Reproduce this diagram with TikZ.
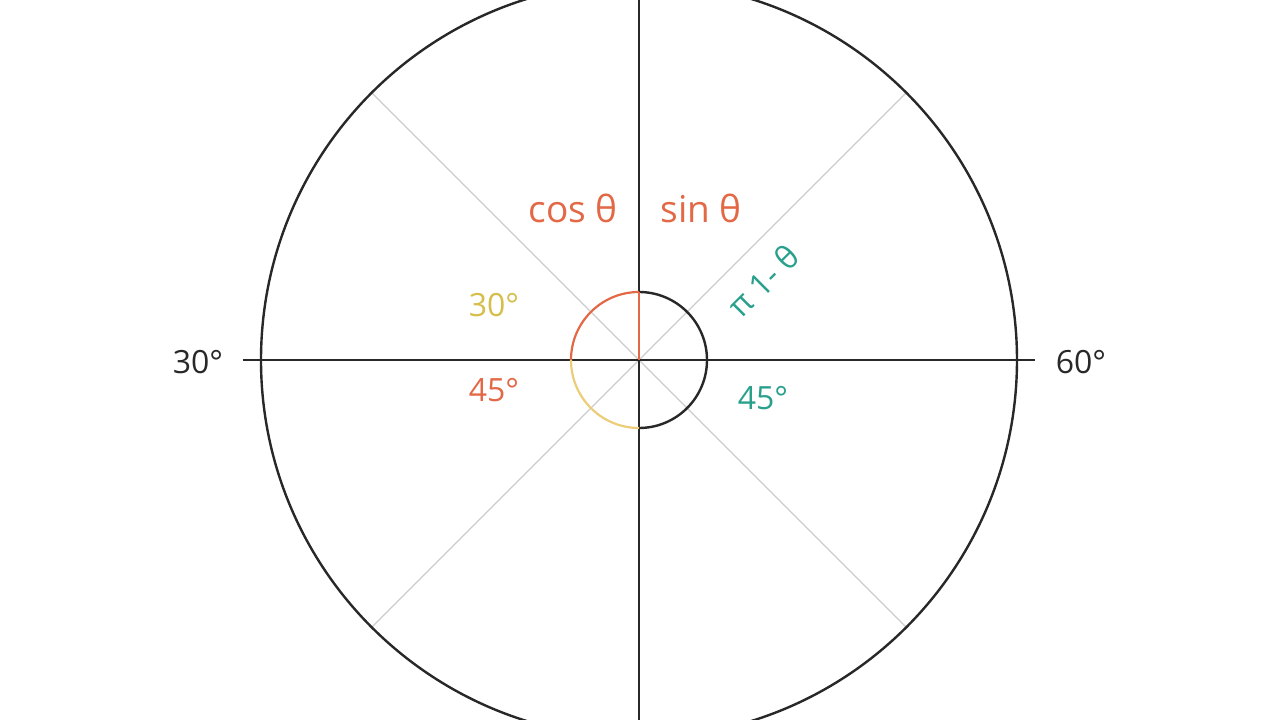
\documentclass[tikz,border=0pt]{standalone}
\usepackage{fontspec}
\setmainfont{Open Sans}
\usetikzlibrary{positioning}

\definecolor{ink}{RGB}{40,40,40}
\definecolor{rust}{RGB}{226,104,70}
\definecolor{mustard}{RGB}{214,190,75}
\definecolor{paleyellow}{RGB}{236,205,120}
\definecolor{teal_ink}{RGB}{40,160,140}
\definecolor{guide}{RGB}{205,205,205}

\begin{document}
\begin{tikzpicture}
    [
        x=1pt, y=1pt,
        black_line/.style={draw=ink, line width=2.4pt},
        grey_line/.style={draw=guide, line width=1.4pt},
        deg_label/.style={font=\fontsize{32}{36}\selectfont, inner sep=0pt},
        trig_label/.style={font=\fontsize{37}{42}\selectfont, inner sep=0pt, text=rust},
    ]
        \useasboundingbox (-639,-360) rectangle (641,360) ;
        \clip (-639,-360) rectangle (641,360) ;
        \coordinate (o) at (0,0) ;
        % guide diagonals
        \foreach \a in {45,135,225,315}
            \draw[grey_line] (o) -- (\a:378) ;
        % axes and outer circle
        \draw[black_line] (o) circle (378) ;
        \draw[black_line] (-396,0) -- (396,0) ;
        \draw[black_line] (0,-380) -- (0,380) ;
        % small circle
        \draw[black_line] (0,68) arc (90:-90:68) ;
        \draw[draw=rust, line width=2.2pt] (0,68) arc (90:180:68) ;
        \draw[draw=paleyellow, line width=2.2pt] (-68,0) arc (180:270:68) ;
        \draw[draw=rust, line width=2.2pt] (o) -- (0,68) ;
        % labels
        \node[trig_label] (cos) at (-66,152) {cos θ} ;
        \node[trig_label] (sin) at (62,152) {sin θ} ;
        \node[deg_label, text=mustard] (thirty_in) at (-145,55) {30°} ;
        \node[deg_label, text=rust] (fortyfive_in) at (-145,-30) {45°} ;
        \node[deg_label, text=ink] (thirty_out) at (-441,-2) {30°} ;
        \node[deg_label, text=ink] (sixty_out) at (442,-2) {60°} ;
        \node[deg_label, text=teal_ink] (fortyfive_out) at (124,-38) {45°} ;
        \node[deg_label, text=teal_ink, rotate=45] (angle) at (124,79) {π 1- θ} ;
    \end{tikzpicture}
\end{document}
